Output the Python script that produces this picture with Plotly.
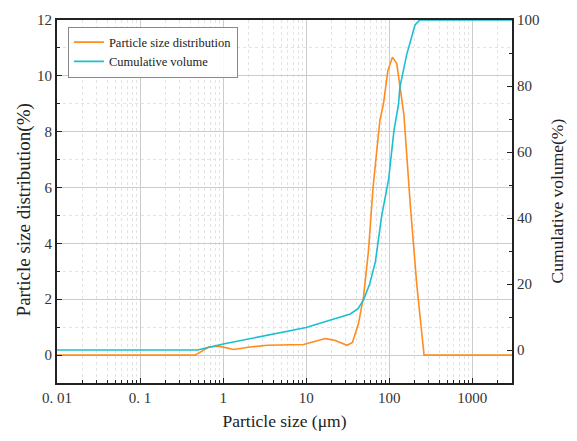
import plotly.graph_objects as go

# Particle size distribution (left axis, %)
psd_size = [0.01, 0.46, 0.67, 0.89, 1.34, 2.1, 3.4, 9.3, 17, 22, 31, 36, 42.5, 49, 56, 64, 77, 85, 96, 109, 123, 134, 150, 178, 214, 262, 3000]
psd_value = [0, 0, 0.29, 0.32, 0.2, 0.29, 0.35, 0.38, 0.59, 0.53, 0.35, 0.45, 1.12, 2.1, 3.7, 6.06, 8.4, 9.0, 10.18, 10.67, 10.44, 9.7, 8.6, 5.47, 2.53, 0, 0]

# Cumulative volume (right axis, %)
cum_size = [0.01, 0.49, 1.0, 2.0, 5.0, 10, 21, 34, 42, 49, 58, 68, 81, 98, 114, 129, 134, 162, 204, 233, 3000]
cum_value = [0, 0, 1.8, 3.3, 5.3, 6.8, 9.3, 10.9, 12.5, 15.2, 20.0, 26.7, 40.7, 51.6, 66.6, 74.4, 79.6, 89.5, 98.5, 100, 100]

x_tickvals = [0.01, 0.1, 1, 10, 100, 1000]
x_ticktext = ["0. 01", "0. 1", "1", "10", "100", "1000"]

FONT = "Liberation Serif, Times New Roman, serif"

fig = go.Figure()
fig.add_trace(go.Scatter(x=psd_size, y=psd_value, mode="lines", name="Particle size distribution",
                         line=dict(color="#FF8C1F", width=1.6)))
fig.add_trace(go.Scatter(x=cum_size, y=cum_value, mode="lines", name="Cumulative volume",
                         line=dict(color="#1BBFD0", width=1.6), yaxis="y2"))

fig.update_layout(
    width=577, height=441,
    margin=dict(l=57, r=65, t=15, b=58),
    paper_bgcolor="white", plot_bgcolor="white",
    font=dict(family=FONT, size=14, color="#333"),
    showlegend=True,
    legend=dict(x=0.024, y=0.982, xanchor="left", yanchor="top",
                bgcolor="rgba(255,255,255,0.9)", bordercolor="#888", borderwidth=1,
                font=dict(family=FONT, size=12.5, color="#222"),
                tracegroupgap=0, itemwidth=30),
    xaxis=dict(type="log", range=[-2, 3.477],
               tickvals=x_tickvals, ticktext=x_ticktext,
               ticks="inside", ticklen=5, tickcolor="#222",
               showline=True, linecolor="#222", linewidth=2, mirror=True,
               showgrid=True, gridcolor="#cccccc", gridwidth=1,
               minor=dict(ticks="inside", ticklen=3, tickcolor="#222",
                          showgrid=True, gridcolor="#e3e3e3", griddash="dot", dtick="D1"),
               title=dict(text="Particle size (μm)", font=dict(family=FONT, size=17.5, color="#222"), standoff=10),
               tickfont=dict(family=FONT, size=15, color="#333"),
               zeroline=False),
    yaxis=dict(range=[-1, 12], dtick=2, tick0=0,
               ticks="inside", ticklen=5, tickcolor="#222",
               showline=True, linecolor="#222", linewidth=2, mirror=True,
               showgrid=True, gridcolor="#cccccc", gridwidth=1,
               minor=dict(ticks="inside", ticklen=3, tickcolor="#222", dtick=1,
                          showgrid=True, gridcolor="#e3e3e3", griddash="dot"),
               tickfont=dict(family=FONT, size=15, color="#333"),
               zeroline=False),
    yaxis2=dict(range=[-10, 100], dtick=20, tick0=0, overlaying="y", side="right",
                ticks="inside", ticklen=5, tickcolor="#222",
                showline=True, linecolor="#222", linewidth=2,
                showgrid=False, zeroline=False,
                minor=dict(ticks="inside", ticklen=3, tickcolor="#222", dtick=10),
                tickfont=dict(family=FONT, size=15, color="#333")),
    annotations=[
        dict(text="Particle size distribution(%)", textangle=-90, showarrow=False,
             xref="paper", yref="paper", x=(24 - 57) / 455, y=1 - (208 - 15) / 368,
             xanchor="center", yanchor="middle",
             font=dict(family=FONT, size=19, color="#222")),
        dict(text="Cumulative volume(%)", textangle=-90, showarrow=False,
             xref="paper", yref="paper", x=(556 - 57) / 455, y=1 - (199 - 15) / 368,
             xanchor="center", yanchor="middle",
             font=dict(family=FONT, size=17.5, color="#222")),
    ],
)

fig.write_html("out.html")
